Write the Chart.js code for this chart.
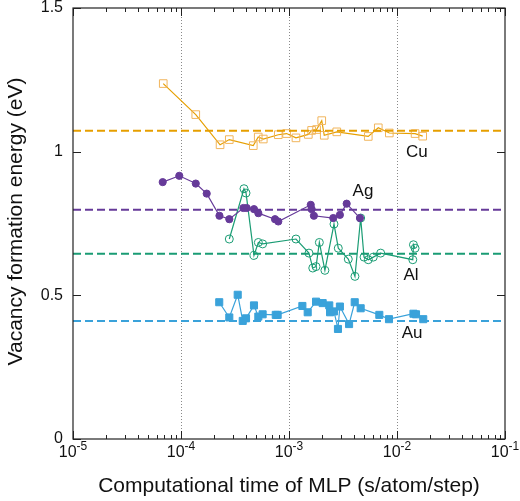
<!DOCTYPE html>
<html>
<head>
<meta charset="utf-8">
<script src="https://cdn.jsdelivr.net/npm/chart.js@4.4.1/dist/chart.umd.min.js"></script>
<style>
  html, body { margin: 0; padding: 0; background: #fff; }
  #wrap { width: 520px; height: 501px; }
</style>
</head>
<body>
<div id="wrap"><canvas id="vacancyChart" width="520" height="501"></canvas></div>
<script>
// computational time (s/atom/step) and vacancy formation energy (eV) per element
let cuTime   = [6.85e-5, 1.37e-4, 2.30e-4, 2.80e-4, 4.67e-4, 5.19e-4, 5.78e-4, 7.96e-4, 9.5e-4, 1.16e-3, 1.51e-3,
                1.62e-3, 1.80e-3, 2.01e-3, 2.12e-3, 2.77e-3, 5.42e-3, 6.71e-3, 8.49e-3, 1.47e-2, 1.73e-2];
let cuEnergy = [1.237, 1.129, 1.024, 1.042, 1.021, 1.051, 1.044, 1.059, 1.063, 1.048, 1.060,
                1.074, 1.077, 1.108, 1.057, 1.069, 1.053, 1.083, 1.065, 1.063, 1.054];

let agTime   = [6.77e-5, 9.64e-5, 1.37e-4, 1.73e-4, 2.27e-4, 2.80e-4, 3.78e-4, 4.06e-4, 4.74e-4, 5.20e-4,
                7.42e-4, 7.96e-4, 1.59e-3, 1.62e-3, 1.70e-3, 2.57e-3, 2.96e-3, 3.42e-3, 4.54e-3];
let agEnergy = [0.894, 0.916, 0.889, 0.854, 0.777, 0.765, 0.804, 0.804, 0.800, 0.786,
                0.765, 0.757, 0.815, 0.800, 0.777, 0.769, 0.780, 0.819, 0.769];

let alTime   = [2.80e-4, 3.83e-4, 4.00e-4, 4.74e-4, 5.20e-4, 5.70e-4, 1.16e-3, 1.53e-3, 1.66e-3, 1.78e-3, 1.91e-3, 2.15e-3,
                2.61e-3, 2.86e-3, 3.54e-3, 4.08e-3, 4.61e-3, 4.95e-3, 5.42e-3, 6.03e-3, 7.06e-3, 1.40e-2, 1.42e-2, 1.47e-2];
let alEnergy = [0.696, 0.871, 0.856, 0.639, 0.684, 0.679, 0.696, 0.647, 0.595, 0.600, 0.684, 0.587,
                0.748, 0.664, 0.626, 0.566, 0.769, 0.633, 0.624, 0.633, 0.647, 0.624, 0.676, 0.664];

let auTime   = [2.26e-4, 2.80e-4, 3.35e-4, 3.73e-4, 4.00e-4, 4.74e-4, 5.20e-4, 5.70e-4, 7.54e-4, 7.85e-4, 1.33e-3, 1.49e-3,
                1.78e-3, 2.05e-3, 2.36e-3, 2.40e-3, 2.61e-3, 2.84e-3, 2.96e-3, 3.60e-3, 4.06e-3, 4.61e-3, 6.86e-3, 8.43e-3,
                1.42e-2, 1.50e-2, 1.75e-2];
let auEnergy = [0.476, 0.423, 0.502, 0.411, 0.420, 0.465, 0.426, 0.434, 0.432, 0.432, 0.463, 0.441,
                0.478, 0.473, 0.465, 0.441, 0.444, 0.383, 0.461, 0.400, 0.476, 0.455, 0.432, 0.417,
                0.436, 0.434, 0.417];

// reference (DFT) values drawn as dashed lines
let elements  = ["Cu", "Ag", "Al", "Au"];
let refEnergy = [1.073, 0.798, 0.645, 0.411];

// where the element names sit, in data units
let nameTime   = [1.53e-2, 4.84e-3, 1.35e-2, 1.38e-2];
let nameEnergy = [0.997, 0.861, 0.571, 0.369];

let xDecades = [1e-5, 1e-4, 1e-3, 1e-2, 1e-1];
let xExponents = ["-5", "-4", "-3", "-2", "-1"];
let yTicks = [0, 0.5, 1, 1.5];
let yTickLabels = ["0", "0.5", "1", "1.5"];

let colors = ["#e69f00", "#663a99", "#1a9c74", "#3aa2da"];
let markerColors = ["#f1b55c", "#663a99", "#1a9c74", "#3aa2da"];

let FONT = "'Liberation Sans', Arial, Helvetica, sans-serif";

let toPoints = function(xs, ys) {
    return xs.map((x, i) => ({x: x, y: ys[i]}));
}

let seriesData = [
    toPoints(cuTime, cuEnergy),
    toPoints(agTime, agEnergy),
    toPoints(alTime, alEnergy),
    toPoints(auTime, auEnergy),
];
let markerStyle  = ["rect", "circle", "circle", "rect"];
let markerFilled = [false, true, false, true];
let markerRadius = [5.4, 3.6, 4.0, 5.0];

let datasets = [];
// dashed reference lines first so they sit under the data
for (let i = 0; i < elements.length; i++) {
    datasets.push({
        label: elements[i] + " reference",
        data: [{x: xDecades[0], y: refEnergy[i]}, {x: xDecades[xDecades.length - 1], y: refEnergy[i]}],
        borderColor: colors[i],
        borderWidth: 2,
        borderDash: [8, 4],
        pointRadius: 0,
        fill: false,
    });
}
for (let i = 0; i < elements.length; i++) {
    datasets.push({
        label: elements[i],
        data: seriesData[i],
        borderColor: colors[i],
        borderWidth: 1.2,
        pointStyle: markerStyle[i],
        pointRadius: markerRadius[i],
        pointBorderWidth: 1,
        pointBorderColor: markerColors[i],
        pointBackgroundColor: markerFilled[i] ? markerColors[i] : "rgba(255,255,255,0)",
        fill: false,
        tension: 0,
    });
}

// gnuplot-like frame: dotted decade grid, inward ticks on every side, labels
let framePlugin = {
    id: 'gnuplotFrame',
    beforeDatasetsDraw: function(chart) {
        let ctx = chart.ctx;
        let a = chart.chartArea;
        let xs = chart.scales.x;
        ctx.save();
        ctx.strokeStyle = "#8a8a8a";
        ctx.lineWidth = 1;
        ctx.setLineDash([1, 2]);
        for (let d of xDecades.slice(1, -1)) {
            let px = Math.round(xs.getPixelForValue(d)) + 0.5;
            ctx.beginPath();
            ctx.moveTo(px, a.top);
            ctx.lineTo(px, a.bottom);
            ctx.stroke();
        }
        ctx.restore();
    },
    afterDraw: function(chart) {
        let ctx = chart.ctx;
        let a = chart.chartArea;
        let xs = chart.scales.x;
        let ys = chart.scales.y;
        ctx.save();
        ctx.strokeStyle = "#222";
        ctx.lineWidth = 1.2;
        ctx.strokeRect(a.left, a.top, a.right - a.left, a.bottom - a.top);

        // x ticks, major and minor, bottom and top
        ctx.lineWidth = 1;
        for (let k = 0; k < xDecades.length; k++) {
            for (let m = 1; m <= 9; m++) {
                let v = xDecades[k] * m;
                if (v > xDecades[xDecades.length - 1] * 1.0001) continue;
                let px = Math.round(xs.getPixelForValue(v)) + 0.5;
                let len = (m == 1) ? 8 : 4;
                ctx.beginPath();
                ctx.moveTo(px, a.bottom);
                ctx.lineTo(px, a.bottom - len);
                ctx.moveTo(px, a.top);
                ctx.lineTo(px, a.top + len);
                ctx.stroke();
            }
        }
        // y ticks, left and right
        for (let v of yTicks) {
            let py = Math.round(ys.getPixelForValue(v)) + 0.5;
            ctx.beginPath();
            ctx.moveTo(a.left, py);
            ctx.lineTo(a.left + 8, py);
            ctx.moveTo(a.right, py);
            ctx.lineTo(a.right - 8, py);
            ctx.stroke();
        }

        ctx.fillStyle = "#111";
        // y tick labels
        ctx.font = "16px " + FONT;
        ctx.textAlign = "right";
        ctx.textBaseline = "middle";
        for (let i = 0; i < yTicks.length; i++) {
            ctx.fillText(yTickLabels[i], a.left - 10, ys.getPixelForValue(yTicks[i]));
        }

        // x tick labels: 10 with a raised exponent
        ctx.textBaseline = "alphabetic";
        ctx.textAlign = "left";
        for (let i = 0; i < xDecades.length; i++) {
            let px = xs.getPixelForValue(xDecades[i]);
            ctx.font = "16px " + FONT;
            let wBase = ctx.measureText("10").width;
            ctx.font = "12px " + FONT;
            let wExp = ctx.measureText(xExponents[i]).width;
            let left = px - (wBase + wExp) / 2;
            ctx.font = "16px " + FONT;
            ctx.fillText("10", left, a.bottom + 18);
            ctx.font = "12px " + FONT;
            ctx.fillText(xExponents[i], left + wBase, a.bottom + 10.5);
        }

        // axis titles
        ctx.font = "21px " + FONT;
        ctx.textAlign = "center";
        ctx.textBaseline = "alphabetic";
        ctx.fillText("Computational time of MLP (s/atom/step)", (a.left + a.right) / 2, a.bottom + 53);
        ctx.save();
        ctx.translate(22, (a.top + a.bottom) / 2 - 2);
        ctx.rotate(-Math.PI / 2);
        ctx.fillText("Vacancy formation energy (eV)", 0, 0);
        ctx.restore();

        // element names
        ctx.font = "17px " + FONT;
        ctx.textAlign = "center";
        ctx.textBaseline = "middle";
        for (let i = 0; i < elements.length; i++) {
            ctx.fillText(elements[i], xs.getPixelForValue(nameTime[i]), ys.getPixelForValue(nameEnergy[i]));
        }
        ctx.restore();
    }
};

let createChart = function() {
    let ctx = document.getElementById('vacancyChart');
    return new Chart(ctx, {
        type: 'line',
        data: { datasets: datasets },
        options: {
            responsive: false,
            animation: false,
            devicePixelRatio: 1,
            layout: { padding: { left: 73, right: 15, top: 8, bottom: 62 } },
            plugins: {
                legend: { display: false },
                tooltip: { enabled: false },
            },
            scales: {
                x: {
                    type: 'logarithmic',
                    min: 1e-5,
                    max: 1e-1,
                    grid: { display: false, drawTicks: false },
                    border: { display: false },
                    ticks: { display: false },
                },
                y: {
                    type: 'linear',
                    min: 0,
                    max: 1.5,
                    grid: { display: false, drawTicks: false },
                    border: { display: false },
                    ticks: { display: false },
                },
            },
        },
        plugins: [framePlugin],
    });
}

window.onload = createChart;
</script>
</body>
</html>
